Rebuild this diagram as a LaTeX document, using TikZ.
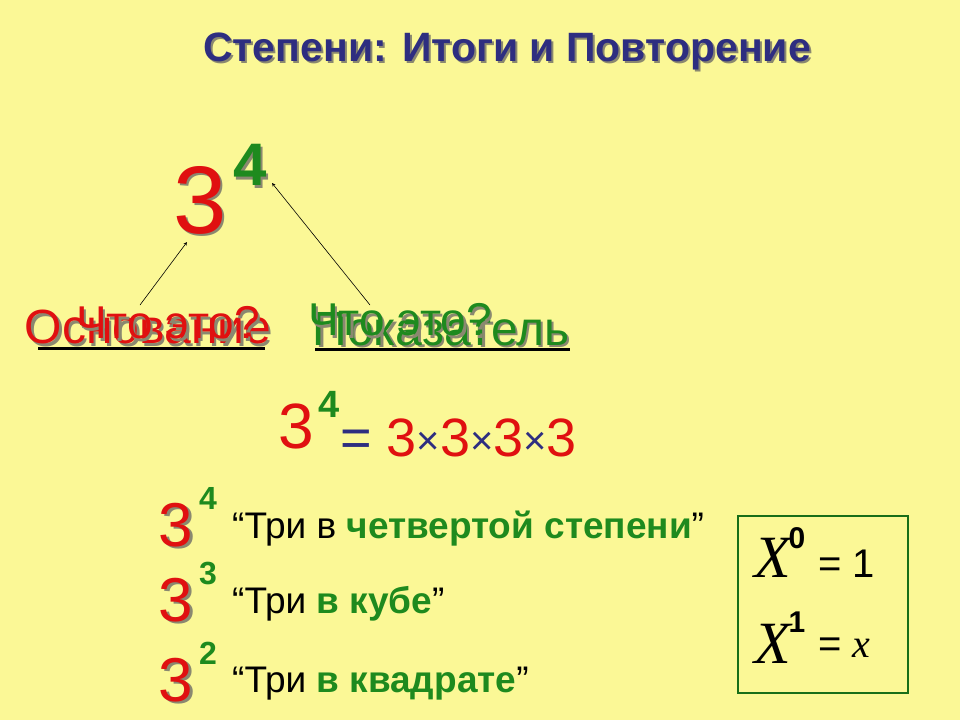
\documentclass[tikz,border=0pt]{standalone}
\usepackage{fontspec}
\setmainfont{Liberation Sans}
\newfontfamily\serifx{Liberation Serif}
\definecolor{bg}{HTML}{FBF896}
\definecolor{rd}{HTML}{E01010}
\definecolor{gr}{HTML}{1E8A1E}
\definecolor{db}{HTML}{2E2E80}
\definecolor{sh}{HTML}{8A8870}
\newcommand{\fs}[1]{\fontsize{#1}{#1}\selectfont}
\newcommand{\shtxt}[4]{\node[anchor=#2,text=sh] at ($(#1)+(2.5,2.5)$) {#4};\node[anchor=#2] at (#1) {#3};}
\usetikzlibrary{calc}
\begin{document}
\begin{tikzpicture}[x=1pt,y=-1pt,every node/.style={inner sep=0pt}]
\fill[bg] (0,0) rectangle (960,720);
\useasboundingbox (0,0) rectangle (960,720);
% title
\node[text=sh] at (509,53) {\fs{41}\bfseries Степени: Итоги и Повторение};
\node[text=db] (title) at (507,51) {\fs{41}\bfseries Степени: Итоги и Повторение};
% big 3^4
\shtxt{200,200}{center}{\fs{96}\color{rd}3}{\fs{96}3}
\shtxt{250,165}{center}{\fs{60}\color{gr}\bfseries 4}{\fs{60}\bfseries 4}
\coordinate (b) at (187,242); \coordinate (e) at (272,183);
\coordinate (b0) at (140,305); \coordinate (e0) at (370,305);
\draw[-stealth,semithick] (b0) -- (b);
\draw[-stealth,semithick] (e0) -- (e);
% labels
\shtxt{148,327}{center}{\fs{48}\color{rd}Основание}{\fs{48}Основание}
\shtxt{168,323}{center}{\fs{46}\color{rd}Что это?}{\fs{46}Что это?}
\draw[line width=3pt,black] (38,348) -- (265,348);
\shtxt{441,329}{center}{\fs{48}\color{gr}Показатель}{\fs{48}Показатель}
\shtxt{400,320}{center}{\fs{46}\color{gr}Что это?}{\fs{46}Что это?}
\draw[line width=3pt,black] (315,349) -- (570,349);
% equation
\node[text=rd,anchor=center] (e3) at (296,426) {\fs{64}3};
\node[text=gr] at (329,404) {\fs{38}\bfseries 4};
\node[anchor=west] at (340,438) {\fs{54}\color{db}= \color{rd}3\color{db}\raisebox{2pt}{\fs{40}×}\color{rd}3\color{db}\raisebox{2pt}{\fs{40}×}\color{rd}3\color{db}\raisebox{2pt}{\fs{40}×}\color{rd}3};
% rows
\foreach \y/\e/\t in {525/4/{“Три в \textbf{\color{gr}четвертой степени}”},600/3/{“Три \textbf{\color{gr}в кубе}”},680/2/{“Три \textbf{\color{gr}в квадрате}”}}{
\shtxt{176,\y}{center}{\fs{62}\color{rd}3}{\fs{62}3}
\node[text=gr] at (208,\y-27) {\fs{32}\bfseries\e};
\node[anchor=west] at (232,\y+4) {\fs{37}\t};
}
% box
\node[draw=gr!80!black,line width=2pt,minimum width=170,minimum height=177,anchor=north west] (box) at (737,515) {};
\node[anchor=center] at (773,558) {\fs{60}\serifx\itshape X};
\node at (797,538) {\fs{30}\bfseries 0};
\node[anchor=west] at (818,564) {\fs{40}= 1};
\node[anchor=center] at (773,644) {\fs{60}\serifx\itshape X};
\node at (797,622) {\fs{30}\bfseries 1};
\node[anchor=west] at (818,648) {\fs{40}= {\serifx\itshape x}};
\end{tikzpicture}
\end{document}
